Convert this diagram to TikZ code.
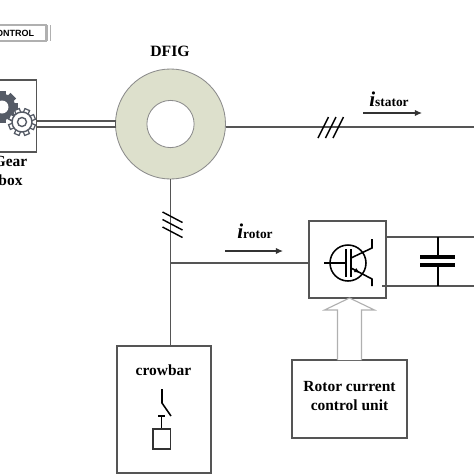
\documentclass[tikz,border=0pt]{standalone}
\usepackage{fontspec}
\setmainfont{Liberation Serif}
\setsansfont{Liberation Sans}
\definecolor{ringgreen}{HTML}{DDE0CC}
\definecolor{gearblue}{HTML}{555B66}
\definecolor{linegrey}{HTML}{555555}
\definecolor{arrowgrey}{HTML}{B0B0B0}
\tikzset{
	wire/.style = {draw = linegrey, line width = 0.9pt},
	blackwire/.style = {draw = black, line width = 1pt},
	boxnode/.style = {draw = linegrey, line width = 0.9pt, fill = white, inner sep = 0pt, outer sep = 0pt},
	lab/.style = {font = \fontsize{11}{13.5}\selectfont\bfseries, inner sep = 0pt, align = center},
	flow/.style = {-{Latex[length = 5pt, width = 4.5pt]}, line width = 0.9pt, draw = black!80}
}
\usetikzlibrary{arrows.meta}
\newcommand{\curlab}[1]{{\fontsize{15}{15}\selectfont\bfseries\itshape i}{\fontsize{9.5}{10}\selectfont\bfseries #1}}
\begin{document}
\begin{tikzpicture}[x = 0.25mm, y = -0.25mm]
\clip (0,0) rectangle (474,474);
\fill[white] (0,0) rectangle (474,474);
\draw[arrowgrey, line width = 1pt, fill = white] (-20,25) rectangle (46,41);
\foreach \x in {47.5, 50.5}
{
	\draw[arrowgrey, line width = 1.2pt] (\x,25) -- (\x,41);
}
\node[font = \fontsize{6.4}{7}\selectfont\sffamily\bfseries, anchor = east, inner sep = 0pt] (ctrl) at (34.5,33) {CONTROL};
\node[boxnode, minimum width = 19.1mm, minimum height = 18mm] (gearbox) at (-1.75,116) {};
\foreach \a in {0,45,...,315}
{
	\fill[gearblue, rotate around = {\a:(2,107)}] (-2,91) rectangle (6,98);
}
\filldraw[gearblue, fill = gearblue] (2,107) circle [radius = 13];
\fill[white] (2,107) circle [radius = 6.5];
\foreach \a in {0,45,...,315}
{
	\filldraw[draw = gearblue, fill = white, line width = 0.9pt, rotate around = {\a+22:(22,122)}] (19.5,108.5) rectangle (24.5,114);
}
\filldraw[draw = gearblue, fill = white, line width = 1pt] (22,122) circle [radius = 10];
\draw[gearblue, line width = 1pt] (22,122) circle [radius = 4.5];
\node[lab] (gearlab) at (10.5,170.5) {Gear\\box};
\node[circle, draw = black!45, fill = ringgreen, line width = 0.6pt, minimum size = 27.5mm, inner sep = 0pt, outer sep = 0pt] (dfig) at (170.5,124) {};
\node[circle, draw = black!45, fill = white, line width = 0.6pt, minimum size = 11.8mm, inner sep = 0pt] (dfighole) at (dfig.center) {};
\node[lab, font = \fontsize{11.2}{14}\selectfont\bfseries] (dfiglab) at (170,51) {DFIG};
\filldraw[draw = linegrey, fill = white, line width = 1pt] (gearbox.east |- 0,121) rectangle (dfig.west |- 0,127);
\coordinate (statorend) at (474,127);
\draw[wire] (dfig.east |- statorend) -- (statorend);
\foreach \x in {0, 7.5, 15}
{
	\draw[blackwire] ({318+\x},138) -- ({328.5+\x},117);
}
\draw[flow] (363,113) -- (422,113);
\node[inner sep = 0pt] (statorlab) at (389,99.5) {\curlab{stator}};
\node[boxnode, minimum width = 23.5mm, minimum height = 31.75mm] (crowbar) at (164,409.5) {};
\node[lab] (crowbarlab) at (163.5,370) {crowbar};
\draw[wire] (dfig.south) -- (dfig.south |- crowbar.north);
\foreach \y in {0, 7.5, 15}
{
	\draw[blackwire] (162.5,{212+\y}) -- (182.5,{222.5+\y});
}
\coordinate (rotorjoin) at (170.5,263);
\node[boxnode, minimum width = 19.25mm, minimum height = 19.25mm] (conv) at (347.5,259.5) {};
\draw[wire] (rotorjoin) -- (rotorjoin -| conv.west);
\draw[flow] (225,251) -- (283,251);
\node[inner sep = 0pt] (rotorlab) at (255,231) {\curlab{rotor}};
\coordinate (dctop) at (474,237);
\coordinate (dcbot) at (474,286);
\draw[wire] (conv.east |- dctop) -- (dctop);
\draw[wire] (382,286) -- (dcbot);
\draw[black, line width = 1.1pt] (438,237) -- (438,257) (438,265) -- (438,286);
\foreach \y in {257, 265}
{
	\draw[black, line width = 2.8pt] (420,\y) -- (455,\y);
}
\draw[black, line width = 1.1pt] (348,263) circle [radius = 18];
\draw[black, line width = 1.1pt] (324,263) -- (346,263) (346,249) -- (346,277);
\draw[black, line width = 1.4pt] (351,249) -- (351,277);
\draw[black, line width = 1.1pt] (351,258) -- (372,248) -- (372,239);
\draw[black, line width = 1.1pt] (351,268) -- (372,279) -- (372,286);
\draw[-{Latex[length = 4pt, width = 3.5pt]}, black, line width = 0.7pt] (353,269) -- (360,272.8);
\node[boxnode, minimum width = 28.75mm, minimum height = 19.5mm] (unit) at (349.5,399) {};
\node[lab] (unitlab) at (349.5,396.5) {Rotor current\\control unit};
\draw[arrowgrey, line width = 0.8pt, fill = white] (unit.north) ++(-12,0) -- ++(0,-50) -- ++(-13,0) -- (conv.south -| unit.north) -- ++(25,12) -- ++(-13,0) -- ++(0,50);
\draw[black, line width = 1.1pt] (162,389) -- (162,403) -- (171,416);
\draw[black, line width = 1.2pt] (158,416) -- (165,416);
\draw[black, line width = 1.2pt] (161.5,416) -- (161.5,429);
\draw[black!80, line width = 0.8pt] (153,429) rectangle (170.5,449);
\end{tikzpicture}
\end{document}
